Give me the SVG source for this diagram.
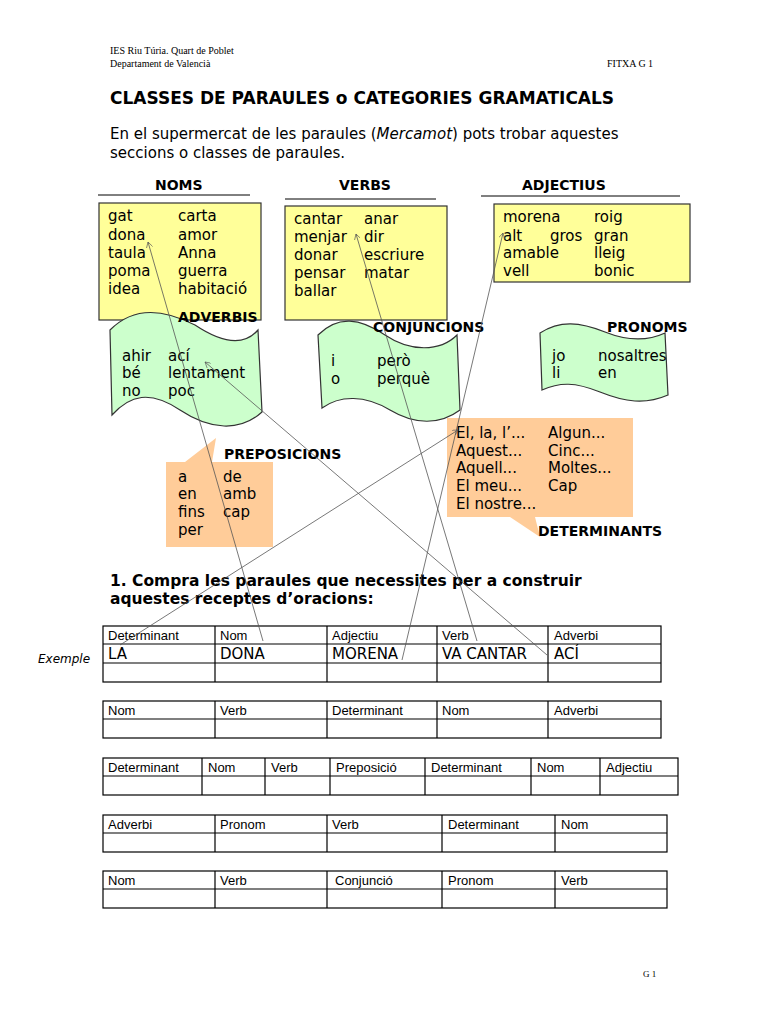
<svg xmlns="http://www.w3.org/2000/svg" width="768" height="1024" viewBox="0 0 768 1024">
<style>
text{font-family:"DejaVu Sans",Verdana,sans-serif;fill:#000}
.s{font-size:15px}
.h{font-size:14px;font-weight:bold}
.t{font-size:13px;font-family:"Liberation Sans",Arial,sans-serif}
.y{fill:#ffff99;stroke:#333;stroke-width:1.2}
.g{fill:#ccffcc;stroke:#333;stroke-width:1.2}
.o{fill:#ffcc99;stroke:none}
.c{fill:none;stroke:#000;stroke-width:1.2}
.ln{stroke:#555;stroke-width:0.8;fill:none;marker-end:url(#a)}
</style>
<defs><marker id="a" markerWidth="8" markerHeight="8" refX="7" refY="4" orient="auto"><path d="M0,0 L7,4 L0,8" fill="none" stroke="#555" stroke-width="0.8"/></marker></defs>
<rect width="768" height="1024" fill="#fff"/>
<text x="110" y="54" style="font-size:10px;font-family:'Liberation Serif',serif">IES Riu Túria. Quart de Poblet</text>
<text x="110" y="67" style="font-size:10px;font-family:'Liberation Serif',serif">Departament de Valencià</text>
<text x="607" y="67" style="font-size:10px;font-family:'Liberation Serif',serif">FITXA G 1</text>
<text x="110" y="104" style="font-size:17px;font-weight:bold">CLASSES DE PARAULES o CATEGORIES GRAMATICALS</text>
<text x="110" y="139" class="s">En el supermercat de les paraules (<tspan font-style="italic">Mercamot</tspan>) pots trobar aquestes</text>
<text x="110" y="158" class="s">seccions o classes de paraules.</text>
<g id="noms"><text x="155" y="190" class="h">NOMS</text><line x1="98" y1="195" x2="250" y2="195" stroke="#000"/>
<rect x="99" y="203" width="162" height="117" class="y"/>
<text class="s"><tspan x="108" y="221">gat</tspan><tspan x="108" y="240">dona</tspan><tspan x="108" y="258">taula</tspan><tspan x="108" y="276">poma</tspan><tspan x="108" y="294">idea</tspan></text>
<text class="s"><tspan x="178" y="221">carta</tspan><tspan x="178" y="240">amor</tspan><tspan x="178" y="258">Anna</tspan><tspan x="178" y="276">guerra</tspan><tspan x="178" y="294">habitació</tspan></text></g>
<g id="verbs"><text x="339" y="190" class="h">VERBS</text><line x1="285" y1="199" x2="436" y2="199" stroke="#000"/>
<rect x="285" y="206" width="162" height="114" class="y"/>
<text class="s"><tspan x="294" y="224">cantar</tspan><tspan x="294" y="242">menjar</tspan><tspan x="294" y="260">donar</tspan><tspan x="294" y="278">pensar</tspan><tspan x="294" y="296">ballar</tspan></text>
<text class="s"><tspan x="364" y="224">anar</tspan><tspan x="364" y="242">dir</tspan><tspan x="364" y="260">escriure</tspan><tspan x="364" y="278">matar</tspan></text></g>
<g id="adjectius"><text x="522" y="190" class="h">ADJECTIUS</text><line x1="481" y1="196" x2="680" y2="196" stroke="#000"/>
<rect x="494" y="204" width="196" height="78" class="y"/>
<text class="s"><tspan x="503" y="222">morena</tspan><tspan x="503" y="241">alt</tspan><tspan x="503" y="258">amable</tspan><tspan x="503" y="276">vell</tspan></text>
<text x="550" y="241" class="s">gros</text>
<text class="s"><tspan x="594" y="222">roig</tspan><tspan x="594" y="241">gran</tspan><tspan x="594" y="258">lleig</tspan><tspan x="594" y="276">bonic</tspan></text></g>
<g id="adverbis"><path d="M110,330 C135,305 165,310 195,325 C225,345 245,345 258,330 L262,412 C240,432 210,430 180,410 C150,390 130,395 112,415 Z" class="g"/>
<text x="178" y="322" class="h">ADVERBIS</text>
<text class="s"><tspan x="122" y="361">ahir</tspan><tspan x="122" y="378">bé</tspan><tspan x="122" y="396">no</tspan></text>
<text class="s"><tspan x="168" y="361">ací</tspan><tspan x="168" y="378">lentament</tspan><tspan x="168" y="396">poc</tspan></text></g>
<g id="conjuncions"><path d="M318,335 C338,315 360,318 385,335 C410,352 440,352 457,335 L460,410 C440,425 415,425 390,410 C365,395 340,395 322,408 Z" class="g"/>
<text x="373" y="332" class="h">CONJUNCIONS</text>
<text class="s"><tspan x="331" y="366">i</tspan><tspan x="331" y="384">o</tspan></text>
<text class="s"><tspan x="377" y="366">però</tspan><tspan x="377" y="384">perquè</tspan></text></g>
<g id="pronoms"><path d="M540,333 C560,320 580,322 605,332 C630,342 650,340 665,333 L668,395 C645,405 625,402 600,392 C575,382 560,382 542,390 Z" class="g"/>
<text x="607" y="332" class="h">PRONOMS</text>
<text class="s"><tspan x="552" y="361">jo</tspan><tspan x="552" y="378">li</tspan></text>
<text class="s"><tspan x="598" y="361">nosaltres</tspan><tspan x="598" y="378">en</tspan></text></g>
<g id="preposicions"><path d="M166,462 L185,462 L216,438 L212,462 L273,462 L273,547 L166,547 Z" class="o"/>
<text x="224" y="459" class="h">PREPOSICIONS</text>
<text class="s"><tspan x="178" y="482">a</tspan><tspan x="178" y="499">en</tspan><tspan x="178" y="517">fins</tspan><tspan x="178" y="535">per</tspan></text>
<text class="s"><tspan x="223" y="482">de</tspan><tspan x="223" y="499">amb</tspan><tspan x="223" y="517">cap</tspan></text></g>
<g id="determinants"><path d="M447,418 L633,418 L633,517 L535,517 L540,537 L510,517 L447,517 Z" class="o"/>
<text x="538" y="536" class="h">DETERMINANTS</text>
<text class="s"><tspan x="456" y="438">El, la, l’...</tspan><tspan x="456" y="456">Aquest...</tspan><tspan x="456" y="473">Aquell...</tspan><tspan x="456" y="491">El meu...</tspan><tspan x="456" y="509">El nostre...</tspan></text>
<text class="s"><tspan x="548" y="438">Algun...</tspan><tspan x="548" y="456">Cinc...</tspan><tspan x="548" y="473">Moltes...</tspan><tspan x="548" y="491">Cap</tspan></text></g>
<text x="110" y="586" style="font-size:15.5px;font-weight:bold">1. Compra les paraules que necessites per a construir</text>
<text x="110" y="604" style="font-size:15.5px;font-weight:bold">aquestes receptes d’oracions:</text>
<text x="38" y="663" style="font-size:12px;font-style:italic">Exemple</text>
<g id="taula1"><rect x="103" y="626" width="558" height="56" class="c"/><path d="M103,644H661M103,663H661M215,626V682M327,626V682M437,626V682M548,626V682" class="c"/>
<text class="t"><tspan x="108" y="640">Determinant</tspan><tspan x="220" y="640">Nom</tspan><tspan x="332" y="640">Adjectiu</tspan><tspan x="442" y="640">Verb</tspan><tspan x="554" y="640">Adverbi</tspan></text>
<text class="s"><tspan x="108" y="659">LA</tspan><tspan x="220" y="659">DONA</tspan><tspan x="332" y="659">MORENA</tspan><tspan x="442" y="659">VA CANTAR</tspan><tspan x="554" y="659">ACÍ</tspan></text></g>
<g id="taula2"><rect x="103" y="701" width="558" height="37" class="c"/><path d="M103,719H661M215,701V738M327,701V738M437,701V738M548,701V738" class="c"/>
<text class="t"><tspan x="108" y="715">Nom</tspan><tspan x="220" y="715">Verb</tspan><tspan x="332" y="715">Determinant</tspan><tspan x="442" y="715">Nom</tspan><tspan x="554" y="715">Adverbi</tspan></text></g>
<g id="taula3"><rect x="103" y="758" width="575" height="37" class="c"/><path d="M103,776H678M202,758V795M265,758V795M330,758V795M425,758V795M531,758V795M600,758V795" class="c"/>
<text class="t"><tspan x="108" y="772">Determinant</tspan><tspan x="208" y="772">Nom</tspan><tspan x="271" y="772">Verb</tspan><tspan x="336" y="772">Preposició</tspan><tspan x="431" y="772">Determinant</tspan><tspan x="537" y="772">Nom</tspan><tspan x="606" y="772">Adjectiu</tspan></text></g>
<g id="taula4"><rect x="103" y="815" width="564" height="37" class="c"/><path d="M103,833H667M215,815V852M327,815V852M442,815V852M555,815V852" class="c"/>
<text class="t"><tspan x="108" y="829">Adverbi</tspan><tspan x="220" y="829">Pronom</tspan><tspan x="332" y="829">Verb</tspan><tspan x="448" y="829">Determinant</tspan><tspan x="561" y="829">Nom</tspan></text></g>
<g id="taula5"><rect x="103" y="871" width="564" height="37" class="c"/><path d="M103,889H667M215,871V908M327,871V908M442,871V908M555,871V908" class="c"/>
<text class="t"><tspan x="108" y="885">Nom</tspan><tspan x="220" y="885">Verb</tspan><tspan x="335" y="885">Conjunció</tspan><tspan x="448" y="885">Pronom</tspan><tspan x="561" y="885">Verb</tspan></text></g>
<g id="connectors">
<line x1="120" y1="645" x2="458" y2="430" class="ln"/>
<line x1="263" y1="641" x2="148" y2="242" class="ln"/>
<line x1="402" y1="660" x2="503" y2="233" class="ln"/>
<line x1="477" y1="641" x2="356" y2="234" class="ln"/>
<line x1="547" y1="655" x2="205" y2="362" class="ln"/>
</g>
<text x="643" y="977" style="font-size:9px;font-family:'Liberation Serif',serif">G 1</text>
</svg>
